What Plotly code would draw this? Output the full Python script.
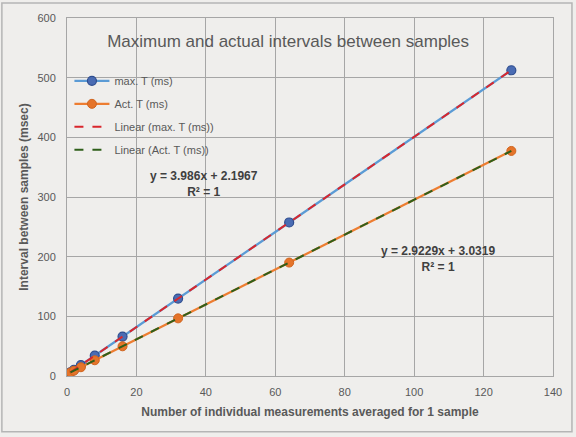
import plotly.graph_objects as go

# Data
n_avg = [1, 2, 4, 8, 16, 32, 64, 128]
max_t = [6.2, 10.2, 18.1, 34.1, 66.0, 129.7, 257.3, 512.4]
act_t = [6.0, 8.9, 14.7, 26.4, 49.8, 96.6, 190.1, 377.2]
trend_x = [1, 128]
trend_max = [6.2, 512.4]
trend_act = [6.0, 377.2]

title = "Maximum and actual intervals between samples"
x_title = "Number of individual measurements averaged for 1 sample"
y_title = "Interval between samples (msec)"
eq_max = "<b>y = 3.986x + 2.1967<br>R² = 1</b>"
eq_act = "<b>y = 2.9229x + 3.0319<br>R² = 1</b>"

txt = "#595959"
font = "Liberation Sans, Arial, sans-serif"

fig = go.Figure()
fig.add_trace(go.Scatter(x=n_avg, y=max_t, name="max. T (ms)", mode="lines+markers", legendgroup="a",
                         line=dict(color="#5b9bd5", width=2.25),
                         marker=dict(size=9, color="#4a6cb3", line=dict(color="#2e4d8f", width=1.2))))
fig.add_trace(go.Scatter(x=n_avg, y=act_t, name="Act. T (ms)", mode="lines+markers", legendgroup="b",
                         line=dict(color="#ed7d31", width=2.25),
                         marker=dict(size=9, color="#e5742a", line=dict(color="#d0651f", width=1))))
fig.add_trace(go.Scatter(x=trend_x, y=trend_max, name="Linear (max. T (ms))", mode="lines", legendgroup="c",
                         line=dict(color="#d9262c", width=2, dash="dash")))
fig.add_trace(go.Scatter(x=trend_x, y=trend_act, name="Linear (Act. T (ms))", mode="lines", legendgroup="d",
                         line=dict(color="#2f5f1a", width=2, dash="dash")))

fig.add_annotation(x=39.5, y=322, text=eq_max, showarrow=False, xref="x", yref="y",
                   font=dict(family=font, size=12, color="#404040"), align="center")
fig.add_annotation(x=107, y=196, text=eq_act, showarrow=False, xref="x", yref="y",
                   font=dict(family=font, size=12, color="#404040"), align="center")

fig.add_shape(type="rect", xref="paper", yref="paper", x0=-0.134, x1=1.039, y0=-0.156, y1=1.042,
              line=dict(color="#b5b5b5", width=1.5), layer="below")

fig.update_layout(
    width=576, height=437,
    margin=dict(l=67, r=23, t=18, b=61),
    paper_bgcolor="#efeeec", plot_bgcolor="#efeeec",
    font=dict(family=font, color=txt, size=11),
    title=dict(text=title, x=0.455, xref="paper", xanchor="center", y=0.905, yref="container",
               yanchor="middle", font=dict(family=font, size=17, color=txt)),
    showlegend=True,
    legend=dict(x=0.005, y=0.865, xanchor="left", yanchor="top", bgcolor="rgba(0,0,0,0)",
                font=dict(family=font, size=11, color=txt), itemwidth=35,
                traceorder="grouped", tracegroupgap=4),
    xaxis=dict(range=[0, 140], dtick=20, showgrid=True, gridcolor="#a6a6a6", gridwidth=1,
               showline=True, linecolor="#a6a6a6", zeroline=False, ticks="",
               tickfont=dict(size=11, color=txt), mirror=True, ticklabelstandoff=6,
               title=dict(text="<b>" + x_title + "</b>", font=dict(size=12, color=txt), standoff=10)),
    yaxis=dict(range=[0, 600], dtick=100, showgrid=True, gridcolor="#a6a6a6", gridwidth=1,
               showline=True, linecolor="#a6a6a6", zeroline=False, ticks="",
               tickfont=dict(size=11, color=txt), mirror=True, ticklabelstandoff=8,
               title=dict(text="<b>" + y_title + "</b>", font=dict(size=12, color=txt), standoff=6)),
)

fig.write_html("out.html")
